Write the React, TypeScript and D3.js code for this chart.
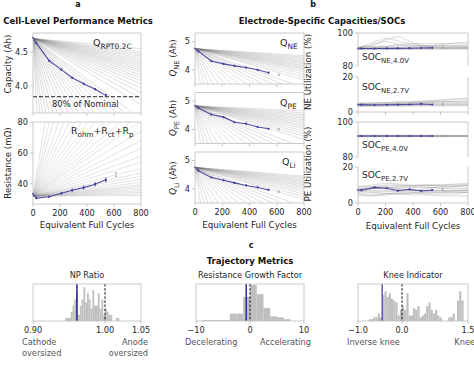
import React from 'react';
import * as d3 from 'd3';

const FONT = 'DejaVu Sans, sans-serif';
const SPINE = '#bdbdbd';
const TEXT = '#262626';
const SUBTEXT = '#555555';
const BLUE = '#3d3d9c';
const GRAY_LINE = '#6a6a6a';
const BAR = '#bfbfbf';

// shared x axis for the trajectory panels
const cycleTicks = [0, 200, 400, 600, 800];
const meanCycles = [0, 25, 120, 210, 290, 375, 460, 540];
const tailCycle = 615;
const socGridCycles = [0, 100, 200, 300, 400, 500, 600, 700, 800];

// panel a: capacity
const capStart = 4.7;
const capMean = [4.71, 4.63, 4.37, 4.24, 4.12, 4.03, 3.95, 3.86];
const capErr = [0.01, 0.012, 0.015, 0.015, 0.018, 0.02, 0.02, 0.025];
const capGrayEnds: [number, number][] = [
  [800, 4.55], [800, 4.5], [800, 4.47], [800, 4.44], [800, 4.41], [800, 4.38], [800, 4.35],
  [800, 4.32], [800, 4.29], [800, 4.26], [800, 4.23], [800, 4.2], [800, 4.16], [800, 4.12],
  [800, 4.08], [800, 4.03], [800, 3.97], [800, 3.9], [800, 3.82], [800, 3.72],
  [740, 3.6], [680, 3.6], [620, 3.6], [560, 3.6], [510, 3.6], [460, 3.6], [420, 3.6],
  [380, 3.6], [340, 3.6], [300, 3.6], [260, 3.6], [220, 3.6], [180, 3.6], [150, 3.6],
  [120, 3.6], [95, 3.6], [70, 3.6], [50, 3.6], [30, 3.6],
];
const capTicks = [4.0, 4.5];
const nominal80 = 3.84;

// panel a: resistance
const resStart = 32;
const resMean = [33.4, 30.8, 31.7, 33.9, 35.9, 37.6, 39.8, 42.6];
const resErr = [1.0, 0.8, 0.8, 1.0, 1.2, 1.3, 1.5, 1.8];
const resTail = 46.1;
const resTailErr = 1.3;
const resGrayEnds: [number, number][] = [
  [90, 80], [120, 80], [150, 80], [190, 80], [230, 80], [270, 80], [310, 80], [360, 80],
  [410, 80], [460, 80], [520, 80], [580, 80], [650, 80], [720, 80], [790, 80],
  [800, 74], [800, 68], [800, 63], [800, 58], [800, 54], [800, 50], [800, 47], [800, 45],
  [800, 43], [800, 41], [800, 39.5], [800, 38.5], [800, 37.5], [800, 36.5], [800, 35.5],
  [800, 34.5], [800, 33.5], [800, 32.5],
];
const resTicks = [40, 60, 80];

// electrode capacities
const qSteepCycles = [720, 640, 570, 500, 440, 380, 320, 270, 220, 170, 130, 95, 65, 40];
const qneStart = 4.75;
const qneMean = [4.75, 4.65, 4.31, 4.21, 4.14, 4.08, 4.0, 3.9];
const qneTail = 3.82;
const qneGrayEnds800 = [4.5, 4.45, 4.4, 4.35, 4.3, 4.25, 4.2, 4.15, 4.1, 4.05, 4.0, 3.93, 3.85, 3.75, 3.65];
const qpeStart = 4.83;
const qpeMean = [4.83, 4.75, 4.52, 4.43, 4.25, 4.2, 4.08, 4.02];
const qpeTail = 4.0;
const qpeGrayEnds800 = [4.65, 4.58, 4.52, 4.46, 4.4, 4.34, 4.28, 4.22, 4.16, 4.1, 4.03, 3.95, 3.86, 3.76, 3.65];
const qliStart = 4.76;
const qliMean = [4.76, 4.64, 4.4, 4.3, 4.21, 4.12, 4.05, 3.96];
const qliTail = 3.9;
const qliGrayEnds800 = [4.45, 4.4, 4.35, 4.3, 4.25, 4.2, 4.15, 4.1, 4.04, 3.98, 3.9, 3.82, 3.72, 3.62];
const qErr = [0.015, 0.015, 0.02, 0.02, 0.02, 0.025, 0.025, 0.03];
const qTicks = [4, 5];

// SOC panels (values on socGridCycles)
const socNe40Mean = [90.6, 90.6, 90.6, 90.7, 90.7, 90.8, 90.9, 91.0];
const socNe40Tail = 91.1;
const socNe40Gray = [
  [90.2, 90.2, 90.3, 90.3, 90.4, 90.4, 90.5, 90.5, 90.5],
  [90.5, 90.5, 90.6, 90.6, 90.7, 90.7, 90.8, 90.8, 90.9],
  [90.8, 90.8, 90.9, 91.0, 91.0, 91.1, 91.1, 91.2, 91.2],
  [91.2, 91.3, 91.4, 91.5, 91.5, 91.6, 91.6, 91.7, 91.7],
  [91.5, 91.8, 92.0, 92.2, 92.3, 92.3, 92.4, 92.5, 92.5],
  [91.0, 94.0, 97.0, 95.0, 93.0, 92.0, 92.0, 92.0, 92.0],
  [91.0, 92.0, 96.0, 98.0, 94.0, 92.0, 91.0, 91.0, 91.0],
  [91.0, 93.0, 95.0, 93.0, 92.0, 92.0, 93.0, 94.0, 94.5],
  [90.5, 91.0, 92.0, 93.0, 93.5, 93.5, 93.5, 93.5, 93.5],
  [90.0, 90.0, 90.0, 90.1, 90.1, 90.2, 90.2, 90.3, 90.3],
];
const socNe27Mean = [4.2, 4.2, 4.0, 4.1, 4.2, 4.3, 4.6, 4.3];
const socNe27Tail = 4.4;
const socNe27Gray = [
  [3.2, 3.2, 3.3, 3.3, 3.4, 3.4, 3.5, 3.5, 3.6],
  [3.6, 3.6, 3.7, 3.7, 3.8, 3.8, 3.9, 4.0, 4.0],
  [4.0, 4.0, 4.0, 4.1, 4.1, 4.2, 4.2, 4.3, 4.3],
  [4.4, 4.4, 4.5, 4.5, 4.6, 4.6, 4.7, 4.8, 4.8],
  [4.8, 4.8, 4.9, 5.0, 5.0, 5.1, 5.2, 5.3, 5.4],
  [5.2, 5.3, 5.4, 5.5, 5.6, 5.7, 5.8, 5.9, 6.0],
  [4.0, 4.0, 4.5, 5.0, 5.5, 6.0, 6.5, 7.0, 7.5],
  [4.5, 5.0, 5.5, 6.0, 6.0, 6.5, 7.0, 7.5, 8.0],
  [3.5, 3.8, 4.0, 4.5, 5.0, 5.5, 6.0, 6.0, 6.5],
];
const socPe40Mean = [92.0, 92.0, 92.0, 92.0, 92.0, 92.0, 92.0, 92.0];
const socPe40Tail = 92.0;
const socPe40Gray = [
  [91.6, 91.6, 91.6, 91.6, 91.6, 91.6, 91.6, 91.6, 91.6],
  [91.8, 91.8, 91.8, 91.8, 91.8, 91.8, 91.8, 91.8, 91.8],
  [92.0, 92.0, 92.0, 92.0, 92.0, 92.0, 92.0, 92.0, 92.0],
  [92.2, 92.2, 92.2, 92.2, 92.2, 92.2, 92.2, 92.2, 92.2],
  [92.4, 92.4, 92.4, 92.4, 92.4, 92.4, 92.4, 92.4, 92.4],
];
const socPe27Mean = [7.2, 7.2, 8.7, 8.2, 6.8, 7.6, 6.7, 7.2];
const socPe27Tail = 7.5;
const socPe27Gray = [
  [7.0, 7.0, 7.0, 7.0, 7.0, 7.0, 7.0, 7.0, 7.0],
  [5.0, 5.0, 5.2, 5.4, 5.5, 5.6, 5.8, 6.0, 6.0],
  [6.0, 6.2, 6.4, 6.5, 6.6, 6.8, 7.0, 7.0, 7.2],
  [8.0, 8.0, 8.2, 8.4, 8.5, 8.6, 8.8, 9.0, 9.0],
  [9.0, 9.2, 9.4, 9.5, 9.6, 9.8, 10.0, 10.0, 10.2],
  [6.0, 8.0, 9.0, 8.0, 7.0, 8.0, 9.0, 9.0, 10.0],
  [8.0, 9.0, 10.0, 10.0, 9.0, 9.0, 8.0, 8.0, 8.0],
  [5.0, 4.0, 4.5, 5.0, 5.5, 6.0, 6.0, 6.5, 7.0],
  [9.0, 10.0, 11.0, 10.5, 10.0, 10.0, 9.5, 9.5, 10.0],
  [4.0, 4.0, 5.0, 6.0, 6.0, 5.0, 5.0, 5.0, 6.0],
  [7.0, 8.0, 8.5, 9.0, 9.5, 10.0, 10.0, 10.5, 11.0],
  [6.5, 6.0, 5.5, 5.0, 4.5, 4.5, 4.0, 4.0, 4.0],
  [7.5, 7.8, 8.0, 7.5, 7.0, 6.5, 6.5, 6.0, 6.0],
];
const socErr = [0.3, 0.3, 0.3, 0.3, 0.3, 0.3, 0.3, 0.3];
const socHighTicks = [80, 100];
const socLowTicks = [0, 20];

// panel c: histograms
const npBinStart = 0.945;
const npBinWidth = 0.0025;
const npCounts = [1, 1, 1, 3, 5, 7, 9, 2, 5, 7, 11, 6, 9, 7, 4, 10, 5, 5, 9, 4, 7, 2, 4, 3, 2, 2, 0, 0, 1, 1, 0];
const npMean = 0.961;
const npTicks = [0.9, 1.0, 1.05];
const npTickLabels = ['0.90', '1.00', '1.05'];

const rgfBinStart = -8.75;
const rgfBinWidth = 1.25;
const rgfCounts = [1, 1, 1, 1, 8, 8, 26, 39, 29, 14, 5, 4, 2];
const rgfMean = -0.7;
const rgfTicks = [-10, 0, 10];
const rgfTickLabels = ['\u221210', '0', '10'];

const kneeBinStart = -0.75;
const kneeBinWidth = 0.05;
const kneeCounts = [1, 1, 2, 2, 4, 2, 14, 16, 13, 15, 12, 11, 10, 3, 6, 8, 6, 15, 3, 3, 7, 6, 8, 2, 3, 4, 8, 10, 6, 4, 6, 3, 2, 0, 0, 0, 2, 2, 4, 0, 11, 16, 11];
const kneeMean = -0.45;
const kneeTicks = [-1.0, 0.0, 1.5];
const kneeTickLabels = ['\u22121.0', '0.0', '1.5'];

type Part = [string, boolean];

const Rich: React.FC<{ parts: Part[]; x?: number; y?: number; size: number; anchor?: string; transform?: string; italic?: boolean }> = ({
  parts, x = 0, y = 0, size, anchor = 'start', transform, italic,
}) => {
  let shifted = false;
  const shift = size * 0.3;
  return (
    <text x={x} y={y} fontSize={size} textAnchor={anchor} fontFamily={FONT} fill={TEXT} transform={transform}>
      {parts.map(([t, sub], i) => {
        let dy = 0;
        if (sub && !shifted) { dy = shift; shifted = true; }
        else if (!sub && shifted) { dy = -shift; shifted = false; }
        return (
          <tspan key={i} dy={dy} fontSize={sub ? size * 0.78 : size} fontStyle={italic && i === 0 ? 'italic' : 'normal'}>
            {t}
          </tspan>
        );
      })}
    </text>
  );
};

type Box = { x0: number; x1: number; y0: number; y1: number };
type Sides = { top?: boolean; bottom?: boolean; left?: boolean; right?: boolean };

interface PanelProps {
  id: string;
  box: Box;
  yDomain: [number, number];
  yTicks: number[];
  yFormat?: (v: number) => string;
  grayLines: [number, number][][];
  grayOpacity?: number;
  mean: number[];
  err: number[];
  tail?: number;
  tailErr?: number;
  sides: Sides;
  xTicks?: boolean;
  xLabels?: boolean;
  children?: (x: d3.ScaleLinear<number, number>, y: d3.ScaleLinear<number, number>) => React.ReactNode;
}

const LinePanel: React.FC<PanelProps> = ({
  id, box, yDomain, yTicks, yFormat = d3.format('d'), grayLines, grayOpacity = 0.3, mean, err, tail, tailErr = 0.02,
  sides, xTicks, xLabels, children,
}) => {
  const x = d3.scaleLinear().domain([0, 800]).range([box.x0, box.x1]);
  const y = d3.scaleLinear().domain(yDomain).range([box.y1, box.y0]);
  const line = d3.line<[number, number]>().x(d => x(d[0])).y(d => y(d[1]));
  const meanPts: [number, number][] = meanCycles.map((c, i) => [c, mean[i]]);

  return (
    <g>
      <clipPath id={id}>
        <rect x={box.x0} y={box.y0} width={box.x1 - box.x0} height={box.y1 - box.y0} />
      </clipPath>
      <g clipPath={`url(#${id})`}>
        {grayLines.map((l, i) => (
          <path key={i} d={line(l) || ''} fill="none" stroke={GRAY_LINE} strokeOpacity={grayOpacity} strokeWidth={0.7} />
        ))}
      </g>
      {children && children(x, y)}
      <path d={line(meanPts) || ''} fill="none" stroke={BLUE} strokeWidth={1.1} strokeOpacity={0.9} />
      {meanPts.map((p, i) => (
        <g key={i}>
          <line x1={x(p[0])} x2={x(p[0])} y1={y(p[1] - err[i])} y2={y(p[1] + err[i])} stroke={BLUE} strokeWidth={0.8} />
          <circle cx={x(p[0])} cy={y(p[1])} r={1.1} fill={BLUE} />
        </g>
      ))}
      {tail !== undefined && (
        <g stroke="#9a9a9a" strokeWidth={0.7}>
          <line x1={x(tailCycle)} x2={x(tailCycle)} y1={y(tail - tailErr)} y2={y(tail + tailErr)} />
          <line x1={x(tailCycle) - 1} x2={x(tailCycle) + 1} y1={y(tail - tailErr)} y2={y(tail - tailErr)} />
          <line x1={x(tailCycle) - 1} x2={x(tailCycle) + 1} y1={y(tail + tailErr)} y2={y(tail + tailErr)} />
        </g>
      )}
      <g stroke={SPINE} strokeWidth={0.8}>
        {sides.top && <line x1={box.x0} x2={box.x1} y1={box.y0} y2={box.y0} />}
        {sides.bottom && <line x1={box.x0} x2={box.x1} y1={box.y1} y2={box.y1} />}
        {sides.left && <line x1={box.x0} x2={box.x0} y1={box.y0} y2={box.y1} />}
        {sides.right && <line x1={box.x1} x2={box.x1} y1={box.y0} y2={box.y1} />}
      </g>
      {yTicks.map(t => (
        <g key={t}>
          <line x1={box.x0 - 3} x2={box.x0} y1={y(t)} y2={y(t)} stroke={SPINE} strokeWidth={0.8} />
          <text x={box.x0 - 5} y={y(t)} dy="0.34em" textAnchor="end" fontSize={8.2} fontFamily={FONT} fill={TEXT}>
            {yFormat(t)}
          </text>
        </g>
      ))}
      {xTicks && cycleTicks.map(t => (
        <g key={t}>
          <line x1={x(t)} x2={x(t)} y1={box.y1} y2={box.y1 + 3} stroke={SPINE} strokeWidth={0.8} />
          {xLabels && (
            <text x={x(t)} y={box.y1 + 12} textAnchor="middle" fontSize={8.2} fontFamily={FONT} fill={TEXT}>
              {t}
            </text>
          )}
        </g>
      ))}
    </g>
  );
};

interface HistProps {
  box: Box;
  xDomain: [number, number];
  ticks: number[];
  tickLabels: string[];
  binStart: number;
  binWidth: number;
  counts: number[];
  yMax: number;
  mean: number;
  meanColor: string;
  dashAt: number;
  title: string;
  leftNote: string[];
  rightNote: string[];
}

const Histogram: React.FC<HistProps> = ({
  box, xDomain, ticks, tickLabels, binStart, binWidth, counts, yMax, mean, meanColor, dashAt, title, leftNote, rightNote,
}) => {
  const x = d3.scaleLinear().domain(xDomain).range([box.x0, box.x1]);
  const y = d3.scaleLinear().domain([0, yMax]).range([box.y1, box.y0]);
  return (
    <g>
      {counts.map((c, i) =>
        c > 0 ? (
          <rect
            key={i}
            x={x(binStart + i * binWidth)}
            width={x(binStart + (i + 1) * binWidth) - x(binStart + i * binWidth)}
            y={y(c)}
            height={y(0) - y(c)}
            fill={BAR}
          />
        ) : null
      )}
      <line x1={x(mean)} x2={x(mean)} y1={box.y0} y2={box.y1} stroke={meanColor} strokeWidth={1.5} />
      <line x1={x(dashAt)} x2={x(dashAt)} y1={box.y0} y2={box.y1} stroke="#111" strokeWidth={1} strokeDasharray="2.5,1.6" />
      <rect x={box.x0} y={box.y0} width={box.x1 - box.x0} height={box.y1 - box.y0} fill="none" stroke={SPINE} strokeWidth={0.8} />
      {ticks.map((t, i) => (
        <g key={t}>
          <line x1={x(t)} x2={x(t)} y1={box.y1} y2={box.y1 + 3} stroke={SPINE} strokeWidth={0.8} />
          <text x={x(t)} y={box.y1 + 12} textAnchor="middle" fontSize={8.2} fontFamily={FONT} fill={TEXT}>
            {tickLabels[i]}
          </text>
        </g>
      ))}
      <text x={(box.x0 + box.x1) / 2} y={box.y0 - 6} textAnchor="middle" fontSize={8.2} fontFamily={FONT} fill={TEXT}>
        {title}
      </text>
      {leftNote.map((s, i) => (
        <text key={'l' + i} x={box.x0 - 11} y={box.y1 + 24 + i * 11} fontSize={8.2} fontFamily={FONT} fill={SUBTEXT}>
          {s}
        </text>
      ))}
      {rightNote.map((s, i) => (
        <text key={'r' + i} x={box.x1 + 7} y={box.y1 + 24 + i * 11} textAnchor="end" fontSize={8.2} fontFamily={FONT} fill={SUBTEXT}>
          {s}
        </text>
      ))}
    </g>
  );
};

const fan = (start: number, ends: [number, number][]): [number, number][][] =>
  ends.map(e => [[0, start], e]);
const fan800 = (start: number, ends800: number[], bottom: number): [number, number][][] => [
  ...ends800.map(v => [[0, start], [800, v]] as [number, number][]),
  ...qSteepCycles.map(c => [[0, start], [c, bottom]] as [number, number][]),
];
const grid = (rows: number[][]): [number, number][][] =>
  rows.map(r => r.map((v, i) => [socGridCycles[i], v] as [number, number]));

export default function App() {
  const aBoxCap: Box = { x0: 33, x1: 141, y0: 33, y1: 113 };
  const aBoxRes: Box = { x0: 33, x1: 141, y0: 122, y1: 204 };
  const qBoxes: Box[] = [
    { x0: 195, x1: 304, y0: 33, y1: 84 },
    { x0: 195, x1: 304, y0: 92.5, y1: 143.5 },
    { x0: 195, x1: 304, y0: 152, y1: 203 },
  ];
  const bx0 = 358;
  const bx1 = 468;

  return (
    <svg width={474} height={366} style={{ position: 'absolute', left: 0, top: 0, background: '#fff' }}>
      {/* headings */}
      <text x={78} y={7} textAnchor="middle" fontSize={8} fontWeight="bold" fontFamily={FONT} fill="#111">a</text>
      <text x={78} y={24} textAnchor="middle" fontSize={8.5} fontWeight="bold" fontFamily={FONT} fill="#111">Cell-Level Performance Metrics</text>
      <text x={313} y={7} textAnchor="middle" fontSize={8} fontWeight="bold" fontFamily={FONT} fill="#111">b</text>
      <text x={322} y={24} textAnchor="middle" fontSize={8.5} fontWeight="bold" fontFamily={FONT} fill="#111">Electrode-Specific Capacities/SOCs</text>
      <text x={251} y={248} textAnchor="middle" fontSize={8} fontWeight="bold" fontFamily={FONT} fill="#111">c</text>
      <text x={250} y={264} textAnchor="middle" fontSize={8.5} fontWeight="bold" fontFamily={FONT} fill="#111">Trajectory Metrics</text>

      {/* panel a */}
      <LinePanel
        id="capclip" box={aBoxCap} yDomain={[3.6, 4.78]} yTicks={capTicks} yFormat={d3.format('.1f')}
        grayLines={fan(capStart, capGrayEnds)} grayOpacity={0.32} mean={capMean} err={capErr}
        sides={{ top: true, bottom: true, left: true, right: true }} xTicks
      >
        {(x, y) => (
          <g>
            <line x1={x(0)} x2={x(800)} y1={y(nominal80)} y2={y(nominal80)} stroke="#222" strokeWidth={1} strokeDasharray="4,2" />
            <text x={52} y={y(nominal80) + 10} fontSize={8.4} fontFamily={FONT} fill={TEXT}>80% of Nominal</text>
          </g>
        )}
      </LinePanel>
      <Rich parts={[['Q', false], ['RPT0.2C', true]]} x={93} y={46} size={9.5} />
      <text transform="translate(11,64) rotate(-90)" textAnchor="middle" fontSize={8.7} fontFamily={FONT} fill={TEXT}>Capacity (Ah)</text>

      <LinePanel
        id="resclip" box={aBoxRes} yDomain={[27, 80]} yTicks={resTicks}
        grayLines={fan(resStart, resGrayEnds)} grayOpacity={0.25} mean={resMean} err={resErr} tail={resTail} tailErr={resTailErr}
        sides={{ top: true, bottom: true, left: true, right: true }} xTicks xLabels
      />
      <Rich parts={[['R', false], ['ohm', true], ['+R', false], ['ct', true], ['+R', false], ['p', true]]} x={71} y={134} size={9.3} />
      <text transform="translate(11,163) rotate(-90)" textAnchor="middle" fontSize={8.7} fontFamily={FONT} fill={TEXT}>{'Resistance (m\u03a9)'}</text>
      <text x={87} y={228} textAnchor="middle" fontSize={8.7} fontFamily={FONT} fill={TEXT}>Equivalent Full Cycles</text>

      {/* electrode capacities */}
      <LinePanel
        id="qneclip" box={qBoxes[0]} yDomain={[3.5, 5.3]} yTicks={qTicks}
        grayLines={fan800(qneStart, qneGrayEnds800, 3.5)} mean={qneMean} err={qErr} tail={qneTail}
        sides={{ top: true, bottom: true, left: true, right: true }} xTicks
      />
      <LinePanel
        id="qpeclip" box={qBoxes[1]} yDomain={[3.5, 5.3]} yTicks={qTicks}
        grayLines={fan800(qpeStart, qpeGrayEnds800, 3.5)} mean={qpeMean} err={qErr} tail={qpeTail}
        sides={{ top: true, bottom: true, left: true, right: true }} xTicks
      />
      <LinePanel
        id="qliclip" box={qBoxes[2]} yDomain={[3.5, 5.3]} yTicks={qTicks}
        grayLines={fan800(qliStart, qliGrayEnds800, 3.5)} mean={qliMean} err={qErr} tail={qliTail}
        sides={{ top: true, bottom: true, left: true, right: true }} xTicks xLabels
      />
      <Rich parts={[['Q', false], ['NE', true]]} x={280} y={46} size={9.5} />
      <Rich parts={[['Q', false], ['PE', true]]} x={280} y={106} size={9.5} />
      <Rich parts={[['Q', false], ['Li', true]]} x={282} y={165} size={9.5} />
      <Rich parts={[['Q', false], ['NE', true], [' (Ah)', false]]} size={8.7} anchor="middle" italic transform="translate(176,58) rotate(-90)" />
      <Rich parts={[['Q', false], ['PE', true], [' (Ah)', false]]} size={8.7} anchor="middle" italic transform="translate(176,118) rotate(-90)" />
      <Rich parts={[['Q', false], ['Li', true], [' (Ah)', false]]} size={8.7} anchor="middle" italic transform="translate(176,178) rotate(-90)" />
      <text x={249.5} y={228} textAnchor="middle" fontSize={8.7} fontFamily={FONT} fill={TEXT}>Equivalent Full Cycles</text>

      {/* panel b: SOCs */}
      <LinePanel
        id="ne40clip" box={{ x0: bx0, x1: bx1, y0: 33, y1: 66 }} yDomain={[80, 100]} yTicks={socHighTicks}
        grayLines={grid(socNe40Gray)} grayOpacity={0.35} mean={socNe40Mean} err={socErr} tail={socNe40Tail} tailErr={0.4}
        sides={{ top: true, left: true, right: true }}
      />
      <LinePanel
        id="ne27clip" box={{ x0: bx0, x1: bx1, y0: 77, y1: 112 }} yDomain={[0, 20]} yTicks={socLowTicks}
        grayLines={grid(socNe27Gray)} grayOpacity={0.35} mean={socNe27Mean} err={socErr} tail={socNe27Tail} tailErr={0.4}
        sides={{ bottom: true, left: true, right: true }} xTicks
      />
      <LinePanel
        id="pe40clip" box={{ x0: bx0, x1: bx1, y0: 122, y1: 157 }} yDomain={[80, 100]} yTicks={socHighTicks}
        grayLines={grid(socPe40Gray)} grayOpacity={0.45} mean={socPe40Mean} err={socErr} tail={socPe40Tail} tailErr={0.3}
        sides={{ top: true, left: true, right: true }}
      />
      <LinePanel
        id="pe27clip" box={{ x0: bx0, x1: bx1, y0: 167, y1: 203 }} yDomain={[0, 20]} yTicks={socLowTicks}
        grayLines={grid(socPe27Gray)} grayOpacity={0.35} mean={socPe27Mean} err={socErr} tail={socPe27Tail} tailErr={0.5}
        sides={{ bottom: true, left: true, right: true }} xTicks xLabels
      />
      <Rich parts={[['SOC', false], ['NE,4.0V', true]]} x={362} y={60} size={9} />
      <Rich parts={[['SOC', false], ['NE,2.7V', true]]} x={362} y={90} size={9} />
      <Rich parts={[['SOC', false], ['PE,4.0V', true]]} x={362} y={148} size={9} />
      <Rich parts={[['SOC', false], ['PE,2.7V', true]]} x={362} y={178} size={9} />
      <text transform="translate(311,72) rotate(-90)" textAnchor="middle" fontSize={8.7} fontFamily={FONT} fill={TEXT}>NE Utilization (%)</text>
      <text transform="translate(311,164) rotate(-90)" textAnchor="middle" fontSize={8.7} fontFamily={FONT} fill={TEXT}>PE Utilization (%)</text>
      <text x={413} y={229} textAnchor="middle" fontSize={8.7} fontFamily={FONT} fill={TEXT}>Equivalent Full Cycles</text>

      {/* panel c: histograms */}
      <Histogram
        box={{ x0: 33, x1: 141, y0: 284, y1: 321 }} xDomain={[0.9, 1.05]} ticks={npTicks} tickLabels={npTickLabels}
        binStart={npBinStart} binWidth={npBinWidth} counts={npCounts} yMax={12}
        mean={npMean} meanColor="#23238a" dashAt={1.0} title="NP Ratio"
        leftNote={['Cathode', 'oversized']} rightNote={['Anode', 'oversized']}
      />
      <Histogram
        box={{ x0: 196, x1: 304, y0: 284, y1: 321 }} xDomain={[-10, 10]} ticks={rgfTicks} tickLabels={rgfTickLabels}
        binStart={rgfBinStart} binWidth={rgfBinWidth} counts={rgfCounts} yMax={40}
        mean={rgfMean} meanColor="#2e2e8f" dashAt={0} title="Resistance Growth Factor"
        leftNote={['Decelerating']} rightNote={['Accelerating']}
      />
      <Histogram
        box={{ x0: 358, x1: 468, y0: 284, y1: 321 }} xDomain={[-1, 1.5]} ticks={kneeTicks} tickLabels={kneeTickLabels}
        binStart={kneeBinStart} binWidth={kneeBinWidth} counts={kneeCounts} yMax={20}
        mean={kneeMean} meanColor="#5b5baa" dashAt={0} title="Knee Indicator"
        leftNote={['Inverse knee']} rightNote={['Knee']}
      />
    </svg>
  );
}
